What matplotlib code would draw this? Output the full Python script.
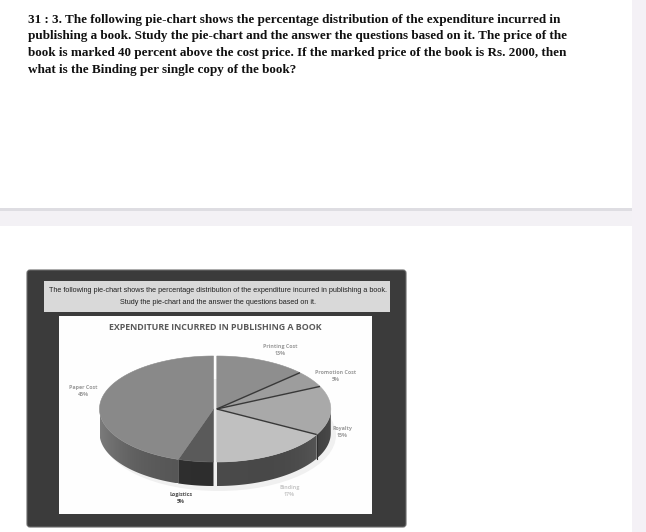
import numpy as np
import matplotlib
matplotlib.use('Agg')
import matplotlib.pyplot as plt
from matplotlib.patches import Rectangle, FancyBboxPatch, Polygon, Ellipse

# data
slices = ['Printing Cost', 'Promotion Cost', 'Royalty', 'Binding', 'Logistics', 'Paper Cost']
shares = [13, 5, 15, 17, 5, 45]
top_colors = ['#8e8e8e', '#9d9d9d', '#a9a9a9', '#c0c0c0', '#5a5a5a', '#898989']
side_colors = ['#5a5a5a', '#555555', '#444444', '#585858', '#353535', '#626262']
label_colors = ['#9c9c9c', '#9c9c9c', '#9c9c9c', '#c8c8c8', '#4d4d4d', '#9c9c9c']

question = ["31 : 3. The following pie-chart shows the percentage distribution of the expenditure incurred in",
            "publishing a book. Study the pie-chart and the answer the questions based on it. The price of the",
            "book is marked 40 percent above the cost price. If the marked price of the book is Rs. 2000, then",
            "what is the Binding per single copy of the book?"]
header = ["The following pie-chart shows the percentage distribution of the expenditure incurred in publishing a book.",
          "Study the pie-chart and the answer the questions based on it."]
title = "EXPENDITURE INCURRED IN PUBLISHING A BOOK"

fig = plt.figure(figsize=(6.46, 5.32), dpi=100)
ax = fig.add_axes([0, 0, 1, 1])

# page background pieces
ax.add_patch(Rectangle((632, 0), 14, 532, color='#f4f1f6', lw=0))
ax.add_patch(Rectangle((0, 208), 632, 18, color='#f3f1f5', lw=0))
ax.add_patch(Rectangle((0, 208), 632, 3, color='#dedde2', lw=0))

for i, line in enumerate(question):
    ax.text(28, 20 + i * 16.5, line, fontsize=9.45, fontweight='bold', family='Liberation Serif',
            va='center', ha='left', color='#111111')

# picture frame
ax.add_patch(FancyBboxPatch((27, 270), 379, 257, boxstyle='round,pad=0,rounding_size=3',
                            fc='#3b3b3b', ec='#6a6a6a', lw=0.8))
ax.add_patch(Rectangle((44, 281), 346, 31, fc='#d9d9d9', ec='none'))
ax.add_patch(Rectangle((59, 316), 313, 198, fc='#fefefe', ec='none'))
ax.text(218, 291, header[0], fontsize=5.2, ha='center', va='center', color='#222222', family='Liberation Sans')
ax.text(218, 302, header[1], fontsize=5.2, ha='center', va='center', color='#222222', family='Liberation Sans')
ax.text(215, 328, title, fontsize=6.4, fontweight='bold', ha='center', va='center', color='#5a5a5a',
        family='Open Sans')

# 3d pie
cx, cy, rx, ry, depth = 216, 409, 114, 53, 24
ax.add_patch(Ellipse((cx + 3, cy + depth + 2), 2 * rx + 6, 2 * ry + 6, fc='#f0f0f0', ec='none'))

bounds = 90 - np.concatenate([[0], np.cumsum(shares)]) * 3.6
nudges = [(5, 4), (-3, 6), (-22, 20), (-2, 2), (-12, -3), (14, -7)]

tops = []
for i, name in enumerate(slices):
    t1, t2 = bounds[i], bounds[i + 1]
    mid = np.radians((t1 + t2) / 2)
    dx = -2.5 if np.cos(mid) < 0 else 0.8
    tt = np.radians(np.linspace(t2, t1, 300))
    xs = cx + dx + rx * np.cos(tt)
    ys = cy - ry * np.sin(tt)
    # side wall on the front half, shaded with a horizontal gradient
    front = np.sin(tt) <= 0
    if front.sum() > 1:
        fx, fy = xs[front], ys[front]
        wall = Polygon(np.r_[np.c_[fx, fy], np.c_[fx[::-1], fy[::-1] + depth]],
                       fc='none', ec='none')
        ax.add_patch(wall)
        gx = np.linspace(fx.min(), fx.max(), 120)
        u = (gx - cx) / rx
        shade = 0.85 + 0.3 * u ** 4 - 0.08 * u
        base = np.array(matplotlib.colors.to_rgb(side_colors[i]))
        img = np.clip(shade[None, :, None] * base[None, None, :], 0, 1)
        ax.imshow(img, extent=(fx.min(), fx.max(), fy.max() + depth, fy.min()), aspect='auto',
                  interpolation='bilinear', clip_path=wall, zorder=1)
    tops.append((np.r_[cx + dx, xs], np.r_[cy, ys], i, dx))

for xs, ys, i, dx in tops:
    ax.add_patch(Polygon(np.c_[xs, ys], fc=top_colors[i], ec=top_colors[i], lw=0.4, zorder=2))

# dark dividing lines between the slices on the right half
for b in bounds[1:4]:
    t = np.radians(b)
    ax.plot([cx + 0.8, cx + 0.8 + rx * np.cos(t)], [cy, cy - ry * np.sin(t)],
            color='#383838', lw=1.0, zorder=2.5, solid_capstyle='butt')
    if np.sin(t) < 0:
        ex, ey = cx + 0.8 + rx * np.cos(t), cy - ry * np.sin(t)
        ax.plot([ex, ex], [ey, ey + depth], color='#2e2e2e', lw=0.8, zorder=2.5)

# labels
for i, name in enumerate(slices):
    m = np.radians((bounds[i] + bounds[i + 1]) / 2)
    lx = cx + 1.3 * rx * np.cos(m) + nudges[i][0]
    ly = cy - 1.3 * ry * np.sin(m) + depth * max(0, -np.sin(m)) + nudges[i][1]
    ax.text(lx, ly, '%s\n%d%%' % (name, shares[i]), fontsize=3.9, fontweight='bold', ha='center',
            va='center', color=label_colors[i], linespacing=1.6, family='Open Sans', zorder=3)

ax.set_xlim(0, 646)
ax.set_ylim(532, 0)
ax.axis('off')
fig.savefig('out.png', dpi=100)
